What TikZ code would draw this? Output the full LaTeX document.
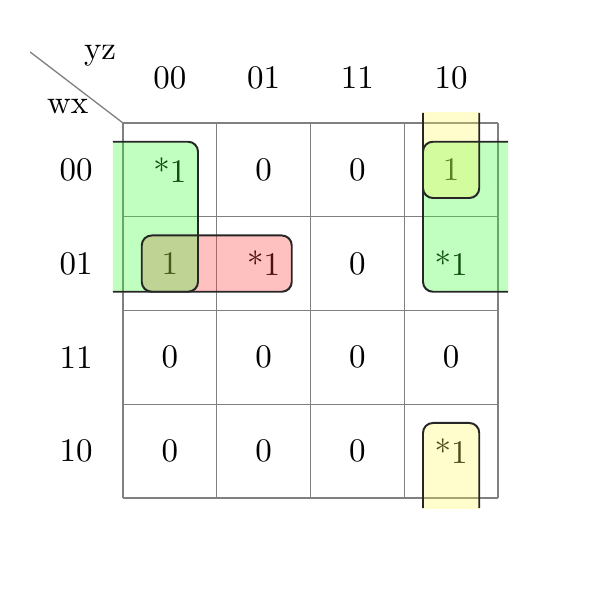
\documentclass[tikz,border=0pt]{standalone}
\begin{document}
\begin{tikzpicture}[
    grid line/.style={gray, line width=0.4pt},
    loop fill/.style={fill opacity=0.31, rounded corners=3pt},
    loop border/.style={black!85, line width=0.6pt, rounded corners=3pt}
  ]
    \useasboundingbox (-1.312,-1.013) rectangle (5.088,5.312);

    % Grid
    \draw[grid line] (0,0) grid (4,4);
    \coordinate (corner) at (0,4);
    \coordinate (diag) at (-0.99,4.757);
    \draw[grid line] (corner) -- (diag);
    \node (yz) at (-0.245,4.72) {yz};
    \node (wx) at (-0.59,4.17) {wx};

    % Labels
    \foreach \lab [count=\i from 0] in {00,01,11,10} {
        \node (col\lab) at (\i+0.5,4.48) {\lab};
        \node (row\lab) at (-0.5,3.5-\i) {\lab};
    }

    % Values
    \foreach \vals [count=\r from 0] in {{*1,0,0,1},{1,*1,0,*1},{0,0,0,0},{0,0,0,*1}} {
        \foreach \v [count=\c from 0] in \vals
            \node (v\r\c) at (\c+0.5,3.5-\r) {\v};
    }

    % Red loop
    \fill[red!80, loop fill] (0.2,2.2) rectangle (1.8,2.8);

    % Green loop (wraps round)
    \begin{scope}
        \clip (-0.107,0) rectangle (1,4);
        \fill[green!80, loop fill] (-0.6,2.2) rectangle (0.8,3.8);
    \end{scope}
    \begin{scope}
        \clip (3,0) rectangle (4.107,4);
        \fill[green!80, loop fill] (3.2,2.2) rectangle (4.6,3.8);
    \end{scope}

    % Yellow loop (wraps round)
    \begin{scope}
        \clip (3,3) rectangle (4,4.107);
        \fill[yellow!65, loop fill] (3.2,3.2) rectangle (3.8,4.6);
    \end{scope}
    \begin{scope}
        \clip (3,-0.107) rectangle (4,1);
        \fill[yellow!65, loop fill] (3.2,-0.6) rectangle (3.8,0.8);
    \end{scope}

    % Borders
    \draw[loop border] (0.2,2.2) rectangle (1.8,2.8);
    \draw[loop border] (-0.107,3.8) -- (0.8,3.8) -- (0.8,2.2) -- (-0.107,2.2);
    \draw[loop border] (4.107,3.8) -- (3.2,3.8) -- (3.2,2.2) -- (4.107,2.2);
    \draw[loop border] (3.2,4.107) -- (3.2,3.2) -- (3.8,3.2) -- (3.8,4.107);
    \draw[loop border] (3.2,-0.107) -- (3.2,0.8) -- (3.8,0.8) -- (3.8,-0.107);
\end{tikzpicture}
\end{document}
